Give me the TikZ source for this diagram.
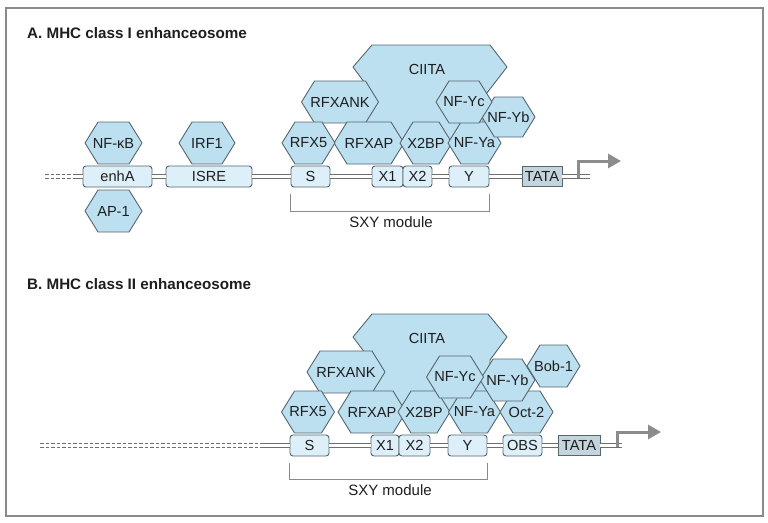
\documentclass[tikz,border=0pt]{standalone}
\usepackage{fontspec}
\setmainfont{Liberation Sans}
\usetikzlibrary{arrows.meta}
\definecolor{hexfill}{HTML}{BDE0F1}
\definecolor{boxfill}{HTML}{DDEFF8}
\definecolor{edgecol}{HTML}{56666F}
\definecolor{tatafill}{HTML}{C3D4DC}
\definecolor{dnacol}{HTML}{6E6E6E}
\definecolor{arrowcol}{HTML}{8C8C8C}
\definecolor{framecol}{HTML}{8A8A8A}
\definecolor{txtcol}{HTML}{1E1E1E}
\newcommand\hexnode[6]{% name, x, y, halfwidth, halfheight, text
  \filldraw[hexshape] (#2-#4,#3) -- (#2-#4+0.62*#5,#3-#5) -- (#2+#4-0.62*#5,#3-#5) -- (#2+#4,#3) -- (#2+#4-0.62*#5,#3+#5) -- (#2-#4+0.62*#5,#3+#5) -- cycle;
  \node[hexlabel] (#1) at (#2,#3) {#6};}
\begin{document}
\begin{tikzpicture}[x=1pt,y=-1pt,
  hexshape/.style={fill=hexfill,draw=edgecol,line width=0.9pt,line join=round},
  hexlabel/.style={inner sep=0pt,text=txtcol,font=\fontsize{14.6}{16}\selectfont},
  dnabox/.style={draw=edgecol,fill=boxfill,rounded corners=3pt,line width=0.9pt,minimum height=21pt,inner sep=0pt,text=txtcol,font=\fontsize{14.6}{16}\selectfont},
  tatabox/.style={draw=edgecol,fill=tatafill,line width=0.9pt,minimum height=20pt,inner sep=0pt,text=txtcol,font=\fontsize{14.6}{16}\selectfont},
  dna/.style={draw=dnacol,double=white,double distance=2.8pt,line width=1pt},
  dnadash/.style={dna,dash pattern=on 3.5pt off 2pt},
  promarrow/.style={draw=arrowcol,line width=3pt,-{Triangle[length=13pt,width=14pt]}},
  bracketline/.style={draw=framecol,line width=1pt},
  titletext/.style={anchor=west,inner sep=0pt,text=txtcol,font=\fontsize{15.2}{17}\selectfont\bfseries},
  modtext/.style={inner sep=0pt,text=txtcol,font=\fontsize{15}{17}\selectfont}]
\fill[white] (0,0) rectangle (768,522);
\useasboundingbox (0,0) rectangle (768,522);
\draw[framecol,line width=1.5pt] (6,8) rectangle (763,516);

% ---------------- Panel A ----------------
\node[titletext] (titleA) at (27,33) {A. MHC class I enhanceosome};
\node[dnabox,minimum width=69pt] (enhA) at (117.5,176.5) {enhA};
\node[dnabox,minimum width=86pt] (isreA) at (209,176.5) {ISRE};
\node[dnabox,minimum width=39pt] (sA) at (310.5,176.5) {S};
\node[dnabox,minimum width=31pt] (x1A) at (387.5,176.5) {X1};
\node[dnabox,minimum width=29pt] (x2A) at (417.5,176.5) {X2};
\node[dnabox,minimum width=40pt] (yA) at (469,176.5) {Y};
\node[tatabox,minimum width=40pt] (tataA) at (542,176.5) {TATA};
\coordinate (dA0) at (45,176.5);
\coordinate (dA1) at (76,176.5);
\coordinate (dAend) at (590,176.5);
\coordinate (pA) at (578,176.5);
\coordinate (pAtip) at (621,161);
\draw[dnadash] (dA0) -- (dA1);
\draw[dna] (dA1) -- (enhA.west);
\draw[dna] (enhA.east) -- (isreA.west);
\draw[dna] (isreA.east) -- (sA.west);
\draw[dna] (sA.east) -- (x1A.west);
\draw[dna] (x2A.east) -- (yA.west);
\draw[dna] (yA.east) -- (tataA.west);
\draw[dna] (tataA.east) -- (dAend);
\draw[promarrow] ([yshift=-1.5pt]pA) |- (pAtip);
\draw[bracketline] ([yshift=-7pt]sA.south west) |- ([yshift=-24pt]yA.south east) -- ([yshift=-7pt]yA.south east);
\node[modtext] (sxyA) at (391,222) {SXY module};

\hexnode{nfkb}{113.5}{143}{28.5}{21}{NF-κB}
\hexnode{ap1}{113.5}{211}{28.5}{21}{AP-1}
\hexnode{irf1}{207}{143}{28}{21}{IRF1}
\filldraw[hexshape] (372,45) -- (490,45) -- (507,67) -- (483,98) -- (483,143) -- (364,143) -- (364,82) -- (353,67) -- cycle;
\node[hexlabel] (ciitaA) at (427,69) {CIITA};
\hexnode{rfxankA}{340}{102}{38.5}{21}{RFXANK}
\hexnode{rfxapA}{369}{143}{35}{21}{RFXAP}
\hexnode{rfx5A}{308.5}{143}{26.5}{21}{RFX5}
\hexnode{x2bpA}{426}{143}{26}{21}{X2BP}
\hexnode{nfyaA}{474.5}{143}{26.5}{21}{NF-Ya}
\hexnode{nfybA}{508.5}{117}{26.5}{20}{NF-Yb}
\hexnode{nfycA}{464}{102}{28}{21}{NF-Yc}

% ---------------- Panel B ----------------
\node[titletext] (titleB) at (27,284) {B. MHC class II enhanceosome};
\node[dnabox,minimum width=39pt] (sB) at (309.5,445.5) {S};
\node[dnabox,minimum width=28pt] (x1B) at (385,445.5) {X1};
\node[dnabox,minimum width=31pt] (x2B) at (414.5,445.5) {X2};
\node[dnabox,minimum width=39pt] (yB) at (467.5,445.5) {Y};
\node[dnabox,minimum width=39pt] (obsB) at (522.5,445.5) {OBS};
\node[tatabox,minimum width=42pt] (tataB) at (579,445.5) {TATA};
\coordinate (dB0) at (40,445.5);
\coordinate (dB1) at (263,445.5);
\coordinate (dBend) at (622,445.5);
\coordinate (pB) at (617,445.5);
\coordinate (pBtip) at (661,432);
\draw[dnadash] (dB0) -- (dB1);
\draw[dna] (dB1) -- (sB.west);
\draw[dna] (sB.east) -- (x1B.west);
\draw[dna] (x2B.east) -- (yB.west);
\draw[dna] (yB.east) -- (obsB.west);
\draw[dna] (obsB.east) -- (tataB.west);
\draw[dna] (tataB.east) -- (dBend);
\draw[promarrow] ([yshift=-1.5pt]pB) |- (pBtip);
\draw[bracketline] ([yshift=-7pt]sB.south west) |- ([yshift=-23pt]yB.south east) -- ([yshift=-7pt]yB.south east);
\node[modtext] (sxyB) at (390,490) {SXY module};

\filldraw[hexshape] (372,314) -- (488,314) -- (507,337) -- (490,360) -- (490,412) -- (365,412) -- (365,353) -- (353,337) -- cycle;
\node[hexlabel] (ciitaB) at (427,338) {CIITA};
\hexnode{rfxankB}{346}{372}{39}{21}{RFXANK}
\hexnode{rfxapB}{372}{412}{34}{21}{RFXAP}
\hexnode{rfx5B}{308}{412}{26.5}{21}{RFX5}
\hexnode{x2bpB}{424}{412}{26}{21}{X2BP}
\hexnode{nfyaB}{474.5}{412}{26}{21}{NF-Ya}
\hexnode{oct2B}{526.5}{412}{26.5}{21}{Oct-2}
\hexnode{nfybB}{507.5}{380}{27.5}{21}{NF-Yb}
\hexnode{bob1B}{553.5}{366}{26.5}{21}{Bob-1}
\hexnode{nfycB}{455}{377}{28.5}{21}{NF-Yc}
\end{tikzpicture}
\end{document}
